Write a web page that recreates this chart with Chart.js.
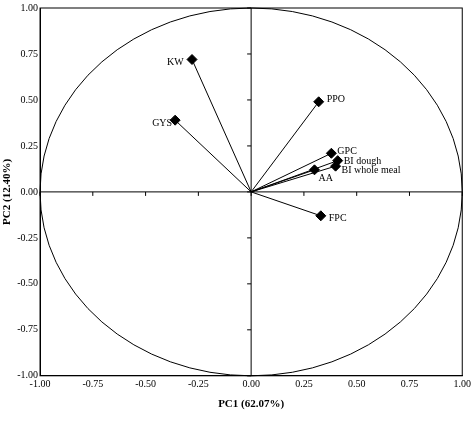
<!DOCTYPE html>
<html><head><meta charset="utf-8">
<script src="https://cdn.jsdelivr.net/npm/chart.js@4/dist/chart.umd.min.js"></script>
<style>body{margin:0;background:#fff}#wrap{width:474px;height:425px}</style>
</head><body><div id="wrap"><canvas id="c"></canvas></div>
<script>
const labels = ['KW', 'GYS', 'PPO', 'GPC', 'BI dough', 'BI whole meal', 'AA', 'FPC'];
const pc1 = [-0.28, -0.36, 0.32, 0.38, 0.41, 0.40, 0.30, 0.33];
const pc2 = [0.72, 0.39, 0.49, 0.21, 0.17, 0.14, 0.12, -0.13];
const ticks = [-1, -0.75, -0.5, -0.25, 0, 0.25, 0.5, 0.75, 1];

// label offsets (px) relative to point
const labOff = [[-25, 3], [-23, 3], [8, -2], [6, -2], [6, 1], [6, 4], [4, 9], [8, 3]];

const extras = {
  id: 'extras',
  beforeDatasetsDraw(chart) {
    const { ctx, scales: { x, y } } = chart;
    const ox = x.getPixelForValue(0), oy = y.getPixelForValue(0);
    ctx.save();
    ctx.strokeStyle = '#000'; ctx.lineWidth = 1;
    ctx.beginPath();
    ctx.moveTo(ox, y.top); ctx.lineTo(ox, y.bottom);
    ctx.moveTo(x.left, oy); ctx.lineTo(x.right, oy);
    ticks.forEach(t => {
      const px = x.getPixelForValue(t), py = y.getPixelForValue(t);
      ctx.moveTo(px, oy); ctx.lineTo(px, oy + 4);
      ctx.moveTo(ox, py); ctx.lineTo(ox - 4, py);
    });
    ctx.stroke();
    // unit circle
    ctx.beginPath();
    ctx.ellipse(ox, oy, x.getPixelForValue(1) - ox, oy - y.getPixelForValue(1), 0, 0, Math.PI * 2);
    ctx.stroke();
    // vectors
    ctx.beginPath();
    pc1.forEach((v, i) => {
      ctx.moveTo(ox, oy);
      ctx.lineTo(x.getPixelForValue(v), y.getPixelForValue(pc2[i]));
    });
    ctx.stroke();
    ctx.restore();
  },
  afterDatasetsDraw(chart) {
    const { ctx, scales: { x, y } } = chart;
    ctx.save();
    ctx.fillStyle = '#000';
    ctx.font = '10px "Liberation Serif"';
    ctx.textBaseline = 'middle';
    labels.forEach((l, i) => {
      ctx.fillText(l, x.getPixelForValue(pc1[i]) + labOff[i][0], y.getPixelForValue(pc2[i]) + labOff[i][1]);
    });
    ctx.restore();
  }
};

new Chart(document.getElementById('c'), {
  type: 'scatter',
  data: {
    datasets: [{
      data: pc1.map((v, i) => ({ x: v, y: pc2[i] })),
      pointStyle: 'rectRot', pointRadius: 5,
      backgroundColor: '#000', borderColor: '#000'
    }]
  },
  options: {
    responsive: true, maintainAspectRatio: false, animation: false,
    layout: { padding: { top: 8, right: 11, bottom: 10, left: 0 } },
    plugins: { legend: { display: false }, tooltip: { enabled: false } },
    scales: {
      x: {
        min: -1, max: 1,
        afterBuildTicks: s => { s.ticks = ticks.map(v => ({ value: v })); },
        ticks: { color: '#000', font: { family: 'Liberation Serif', size: 10 }, callback: v => v.toFixed(2), maxRotation: 0 },
        grid: { display: false, drawTicks: false },
        border: { color: '#000' },
        title: { display: true, text: 'PC1 (62.07%)', color: '#000', font: { family: 'Liberation Serif', size: 11, weight: 'bold' } }
      },
      y: {
        min: -1, max: 1,
        afterBuildTicks: s => { s.ticks = ticks.map(v => ({ value: v })); },
        ticks: { color: '#000', font: { family: 'Liberation Serif', size: 10 }, callback: v => v.toFixed(2), padding: 2 },
        grid: { display: false, drawTicks: false },
        border: { color: '#000' },
        title: { display: true, text: 'PC2 (12.40%)', color: '#000', padding: 1, font: { family: 'Liberation Serif', size: 11, weight: 'bold' } }
      }
    }
  },
  plugins: [extras, {
    id: 'frame',
    afterDraw(chart) {
      const { ctx, chartArea: a } = chart;
      ctx.save(); ctx.strokeStyle = '#000'; ctx.lineWidth = 1;
      ctx.strokeRect(a.left, a.top, a.right - a.left, a.bottom - a.top);
      ctx.restore();
    }
  }]
});
</script>
</body></html>
